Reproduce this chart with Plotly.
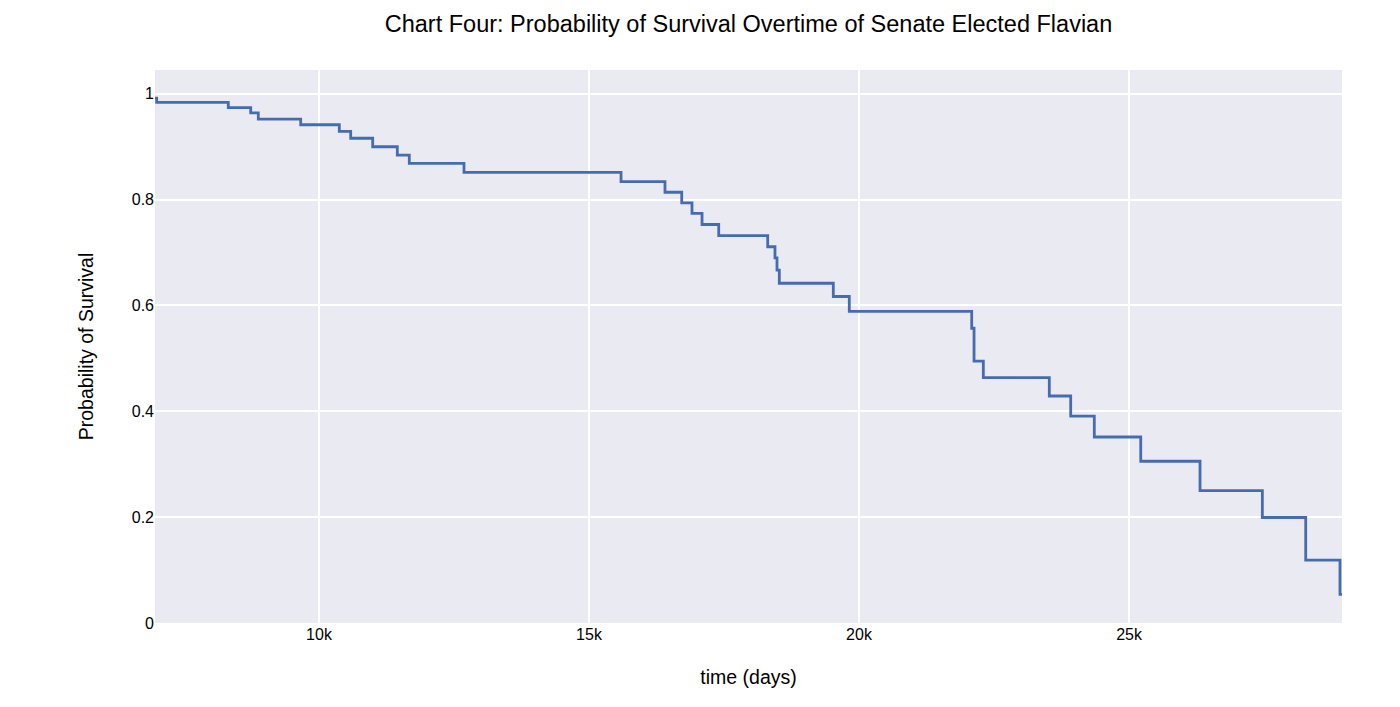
import plotly.graph_objects as go

time_days = [6963, 6994, 8320, 8735, 8876, 9661, 10376, 10587, 10994, 11450, 11672,
             12685, 15593, 16407, 16717, 16907, 17093, 17402, 18309, 18444, 18481,
             18524, 19524, 19820, 22087, 22130, 22302, 23524, 23920, 24357, 25217,
             26315, 27469, 28272, 28907, 28944]
survival = [0.992, 0.984, 0.974, 0.964, 0.952, 0.9415, 0.929, 0.916, 0.900, 0.884, 0.8685,
            0.8515, 0.834, 0.814, 0.794, 0.774, 0.753, 0.732, 0.711, 0.690, 0.667,
            0.642, 0.617, 0.589, 0.557, 0.495, 0.4635, 0.429, 0.391, 0.3515, 0.3057,
            0.2503, 0.1994, 0.1189, 0.0541, 0.0541]

fig = go.Figure()
fig.add_trace(go.Scatter(
    x=time_days, y=survival, mode="lines", line_shape="hv",
    line=dict(color="rgb(70,108,176)", width=2.8), showlegend=False,
))

fig.update_layout(
    template="seaborn",
    width=1400, height=707,
    font=dict(family="Liberation Sans, Arial, sans-serif", size=16, color="black"),
    title=dict(text="Chart Four: Probability of Survival Overtime of Senate Elected Flavian",
               x=0.5, xref="paper", xanchor="center", y=0.978, yanchor="middle",
               font=dict(size=23.5, color="black")),
    margin=dict(l=147, r=66, t=62, b=92),
    plot_bgcolor="rgb(234,234,242)",
    paper_bgcolor="white",
)
fig.update_xaxes(title=dict(text="time (days)", font=dict(size=19.5), standoff=28),
                 showgrid=True, gridcolor="white", gridwidth=1.5, zeroline=False,
                 tickfont=dict(size=16), ticks="")
fig.update_yaxes(title=dict(text="Probability of Survival", font=dict(size=19.5), standoff=32),
                 range=[0, 1.045], dtick=0.2, showgrid=True, gridcolor="white",
                 gridwidth=1.5, zeroline=False, tickfont=dict(size=16), ticks="")

fig.write_html("out.html")
